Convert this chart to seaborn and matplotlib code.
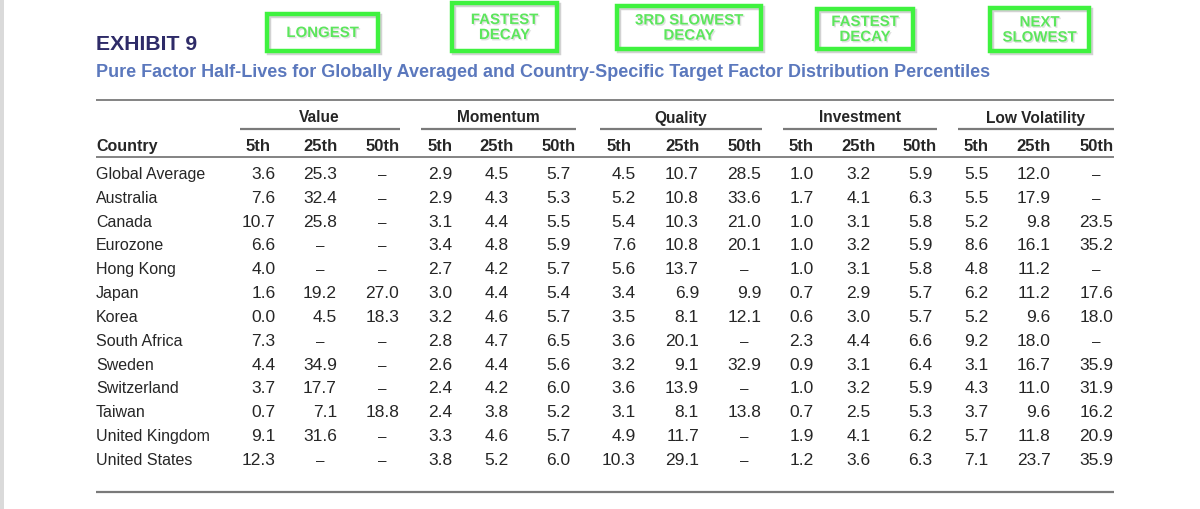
import numpy as np
import pandas as pd
import matplotlib
matplotlib.use("Agg")
import matplotlib.pyplot as plt
import matplotlib.patheffects as pe
from matplotlib.patches import Rectangle
import seaborn as sns

# table contents (nan = dash)
na = np.nan
countries = ["Global Average", "Australia", "Canada", "Eurozone", "Hong Kong", "Japan",
             "Korea", "South Africa", "Sweden", "Switzerland", "Taiwan",
             "United Kingdom", "United States"]
factors = ["Value", "Momentum", "Quality", "Investment", "Low Volatility"]
percentiles = ["5th", "25th", "50th"]

value_5th = [3.6, 7.6, 10.7, 6.6, 4.0, 1.6, 0.0, 7.3, 4.4, 3.7, 0.7, 9.1, 12.3]
value_25th = [25.3, 32.4, 25.8, na, na, 19.2, 4.5, na, 34.9, 17.7, 7.1, 31.6, na]
value_50th = [na, na, na, na, na, 27.0, 18.3, na, na, na, 18.8, na, na]
momentum_5th = [2.9, 2.9, 3.1, 3.4, 2.7, 3.0, 3.2, 2.8, 2.6, 2.4, 2.4, 3.3, 3.8]
momentum_25th = [4.5, 4.3, 4.4, 4.8, 4.2, 4.4, 4.6, 4.7, 4.4, 4.2, 3.8, 4.6, 5.2]
momentum_50th = [5.7, 5.3, 5.5, 5.9, 5.7, 5.4, 5.7, 6.5, 5.6, 6.0, 5.2, 5.7, 6.0]
quality_5th = [4.5, 5.2, 5.4, 7.6, 5.6, 3.4, 3.5, 3.6, 3.2, 3.6, 3.1, 4.9, 10.3]
quality_25th = [10.7, 10.8, 10.3, 10.8, 13.7, 6.9, 8.1, 20.1, 9.1, 13.9, 8.1, 11.7, 29.1]
quality_50th = [28.5, 33.6, 21.0, 20.1, na, 9.9, 12.1, na, 32.9, na, 13.8, na, na]
investment_5th = [1.0, 1.7, 1.0, 1.0, 1.0, 0.7, 0.6, 2.3, 0.9, 1.0, 0.7, 1.9, 1.2]
investment_25th = [3.2, 4.1, 3.1, 3.2, 3.1, 2.9, 3.0, 4.4, 3.1, 3.2, 2.5, 4.1, 3.6]
investment_50th = [5.9, 6.3, 5.8, 5.9, 5.8, 5.7, 5.7, 6.6, 6.4, 5.9, 5.3, 6.2, 6.3]
lowvol_5th = [5.5, 5.5, 5.2, 8.6, 4.8, 6.2, 5.2, 9.2, 3.1, 4.3, 3.7, 5.7, 7.1]
lowvol_25th = [12.0, 17.9, 9.8, 16.1, 11.2, 11.2, 9.6, 18.0, 16.7, 11.0, 9.6, 11.8, 23.7]
lowvol_50th = [na, na, 23.5, 35.2, na, 17.6, 18.0, na, 35.9, 31.9, 16.2, 20.9, 35.9]

callouts = ["LONGEST", "FASTEST\nDECAY", "3RD SLOWEST\nDECAY", "FASTEST\nDECAY", "NEXT\nSLOWEST"]

title = "EXHIBIT 9"
subtitle = ("Pure Factor Half-Lives for Globally Averaged and Country-Specific "
            "Target Factor Distribution Percentiles")

cols = pd.MultiIndex.from_product([factors, percentiles])
df = pd.DataFrame(np.column_stack([
    value_5th, value_25th, value_50th,
    momentum_5th, momentum_25th, momentum_50th,
    quality_5th, quality_25th, quality_50th,
    investment_5th, investment_25th, investment_50th,
    lowvol_5th, lowvol_25th, lowvol_50th]), index=countries, columns=cols)

sns.set_theme(style="white")
plt.rcParams['font.family'] = ['Liberation Sans', 'DejaVu Sans']

fig = plt.figure(figsize=(12, 5.1), dpi=100)
ax = fig.add_axes([0, 0, 1, 1])
ax.set_xlim(0, 1200)
ax.set_ylim(510, 0)
ax.axis("off")
renderer = fig.canvas.get_renderer()

ink = "#262626"
rule = "#7a7a7a"
left, right = 96, 1114
num_size = 12.5

# grey page edge on the left
ax.add_patch(Rectangle((0, 0), 4, 510, color="#dadada", lw=0))


def fit_text(x, y, s, width, **kw):
    t = ax.text(x, y, s, **kw)
    w = t.get_window_extent(renderer).width
    t.set_fontsize(t.get_fontsize() * width / w)
    return t


fit_text(left, 50, title, 101, fontsize=14.5, fontweight="bold", color="#2e2b68",
         va="baseline")
fit_text(left, 77, subtitle, 891, fontsize=12, fontweight="bold", color="#5b78bd",
         va="baseline")

# rules
ax.plot([left, right], [101, 101], color=rule, lw=1.3, solid_capstyle="butt")
ax.plot([left, right], [157.5, 157.5], color=rule, lw=1.3, solid_capstyle="butt")
ax.plot([left, right], [493, 493], color=rule, lw=1.6, solid_capstyle="butt")

col_centers = [258.5, 320, 382.5, 440, 496.5, 558.5, 619, 682, 744.5,
               801.5, 858.5, 920, 976.5, 1033.5, 1096.5]
row_base = [179 + 23.83 * i for i in range(len(countries))]

# group headers with underlines
for g, name in enumerate(factors):
    c = col_centers[3 * g:3 * g + 3]
    x0, x1 = c[0] - 19, c[2] + 17
    ax.plot([x0, x1], [130, 130], color=rule, lw=1.6, solid_capstyle="butt")
    ax.text((x0 + x1) / 2, 122.5, name, ha="center", va="baseline", fontsize=11.2,
            fontweight="bold", color=ink)

ax.text(left, 151, "Country", ha="left", va="baseline", fontsize=11.5,
        fontweight="bold", color=ink)
for j, col in enumerate(df.columns):
    ax.text(col_centers[j], 151, col[1], ha="center", va="baseline", fontsize=12,
            fontweight="bold", color=ink)

# body
for i, country in enumerate(df.index):
    ax.text(left, row_base[i], country, ha="left", va="baseline", fontsize=11.5,
            color=ink)

for j, col in enumerate(df.columns):
    vals = df[col].values
    labels = ["%.1f" % v for v in vals if not np.isnan(v)]
    probe = ax.text(0, 0, max(labels, key=len), fontsize=num_size)
    wmax = probe.get_window_extent(renderer).width
    probe.remove()
    xr = col_centers[j] + wmax / 2
    for i, v in enumerate(vals):
        if np.isnan(v):
            ax.text(col_centers[j], row_base[i], "\u2013", ha="center",
                    va="baseline", fontsize=11, color=ink)
        else:
            ax.text(xr, row_base[i], "%.1f" % v, ha="right", va="baseline",
                    fontsize=num_size, color=ink)

# green call-out boxes above the columns
boxes = [(267, 15, 378, 52), (452, 4, 557, 52), (617, 7, 761, 50),
         (817, 10, 913, 50), (990, 9, 1089, 52)]
text_shadow = [pe.SimplePatchShadow(offset=(1, -1), shadow_rgbFace="#999999", alpha=0.3),
               pe.Normal()]
for (x0, y0, x1, y1), lab in zip(boxes, callouts):
    ax.add_patch(Rectangle((x0 + 1.5, y0 + 1.5), x1 - x0, y1 - y0, fill=False,
                           ec="#d2d2d2", lw=3.2))
    ax.add_patch(Rectangle((x0, y0), x1 - x0, y1 - y0, fill=False, ec="#3ff23f",
                           lw=3.2))
    ax.text((x0 + x1) / 2, (y0 + y1) / 2 + 0.5, lab, ha="center", va="center",
            fontsize=10.8, fontweight="bold", color="#5ce65c", linespacing=1.1,
            path_effects=text_shadow)

fig.savefig("out.png", dpi=100, facecolor="white")
